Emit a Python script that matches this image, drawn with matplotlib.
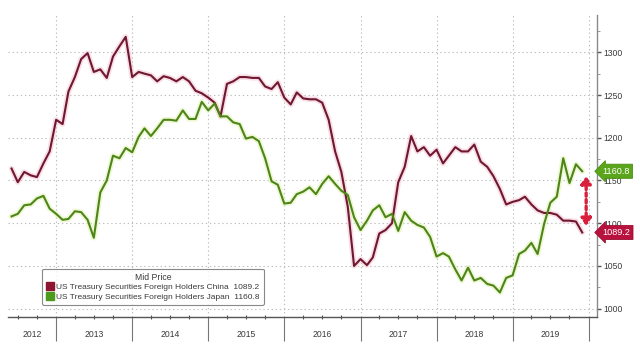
#!/usr/bin/env python3
"""
US Treasury securities held by China and Japan (USD bn), monthly, Bloomberg style.
"""
import matplotlib
matplotlib.use("Agg")
import matplotlib.dates as mdates
import matplotlib.pyplot as plt
import matplotlib.transforms as mtransforms
import pandas as pd
from matplotlib.lines import Line2D

# ── data (Jun 2012 .. Dec 2019) ─────────────────────────────────────────────
months = pd.date_range("2012-06-01", periods=91, freq="MS")

china = [
    1164, 1148, 1160, 1156, 1154, 1170, 1184, 1221, 1216, 1254, 1271, 1292,
    1299, 1277, 1280, 1270, 1295, 1307, 1318, 1271, 1277, 1275, 1273,
    1266, 1272, 1270, 1266, 1271, 1266, 1255, 1252, 1247, 1241, 1225, 1263,
    1266, 1271, 1271, 1270, 1270, 1260, 1257, 1265, 1247, 1239,
    1253, 1246, 1245, 1245, 1241, 1221, 1184, 1160, 1119, 1050, 1058, 1051,
    1060, 1088, 1092, 1100, 1148, 1166, 1202, 1184, 1189, 1179, 1186,
    1170, 1179, 1189, 1184, 1184, 1192, 1172, 1166, 1155, 1140, 1122, 1125,
    1127, 1131, 1122, 1115, 1112, 1112, 1110, 1103, 1103, 1102, 1089.2,
]
japan = [
    1108, 1111, 1121, 1122, 1129, 1132, 1117, 1111, 1104, 1105, 1114, 1113,
    1104, 1083, 1136, 1150, 1179, 1176, 1188, 1183, 1201, 1211, 1202,
    1211, 1221, 1221, 1220, 1232, 1222, 1222, 1242, 1232, 1240, 1225, 1225,
    1218, 1216, 1199, 1201, 1196, 1176, 1149, 1145, 1123, 1124, 1134,
    1137, 1142, 1134, 1146, 1155, 1146, 1138, 1133, 1107, 1092, 1103, 1115,
    1121, 1107, 1111, 1091, 1113, 1103, 1098, 1095, 1084, 1061,
    1065, 1061, 1046, 1033, 1048, 1033, 1036, 1029, 1027, 1019, 1036, 1039,
    1064, 1068, 1077, 1064, 1099, 1124, 1131, 1176, 1147, 1169, 1160.8,
]
years = list(range(2012, 2020))
yticks = [1000, 1050, 1100, 1150, 1200, 1250, 1300]

CHINA_C, CHINA_GLOW = "#6f1830", "#f4c6d4"
JAPAN_C, JAPAN_GLOW = "#4c8618", "#e2f2b4"
GRID_C = "#bdbdbd"
TEXT_C = "#3a3a3a"

plt.rcParams.update({
    "font.family": ["Liberation Sans", "DejaVu Sans"],
    "font.size": 6,
    "figure.dpi": 100,
})

fig = plt.figure(figsize=(6.4, 3.51))
ax = fig.add_axes([8 / 640, 1 - 317 / 351, 589 / 640, 302 / 351])

# ── lines (soft halo underneath, like the screenshot) ───────────────────────
ax.plot(months, china, color=CHINA_GLOW, lw=4.0, alpha=0.55, zorder=2, solid_capstyle="round")
ax.plot(months, japan, color=JAPAN_GLOW, lw=4.0, alpha=0.55, zorder=2, solid_capstyle="round")
ax.plot(months, china, color=CHINA_C, lw=1.5, zorder=3)
ax.plot(months, japan, color=JAPAN_C, lw=1.5, zorder=3)

ax.set_ylim(990.3, 1343.6)
ax.set_xlim(pd.Timestamp("2012-05-15"), pd.Timestamp("2020-02-10"))

# ── grid ───────────────────────────────────────────────────────────────────
for v in yticks:
    ax.axhline(v, color=GRID_C, lw=0.8, ls=(0, (1.2, 2.5)), zorder=1)
for y in years[1:] + [2020]:
    ax.axvline(pd.Timestamp(f"{y}-01-01"), color=GRID_C, lw=0.8, ls=(0, (1.2, 2.5)), zorder=1)

# ── spines / y axis on the right ───────────────────────────────────────────
for s in ("top", "left"):
    ax.spines[s].set_visible(False)
ax.spines["right"].set_color("#8a8a8a")
ax.spines["bottom"].set_color("#555555")
ax.spines["right"].set_linewidth(1.0)
ax.spines["bottom"].set_linewidth(1.0)

ax.yaxis.tick_right()
ax.set_yticks(yticks)
ax.set_yticks([v + 25 for v in yticks[:-1]] + [1325], minor=True)
ax.tick_params(axis="y", which="major", length=3, width=1.0, color="#555555",
               pad=1.5, labelsize=6.2, labelcolor=TEXT_C)
ax.tick_params(axis="y", which="minor", length=2, width=0.6, color="#8a8a8a")

# ── x axis: long separators at year starts, short ticks every quarter ──────
ax.xaxis.set_major_locator(mdates.YearLocator())
ax.xaxis.set_minor_locator(mdates.MonthLocator(bymonth=[4, 7, 10]))
ax.xaxis.set_major_formatter(plt.NullFormatter())
ax.tick_params(axis="x", which="major", length=17, width=0.8, color="#777777", direction="out")
ax.tick_params(axis="x", which="minor", length=2.5, width=0.8, color="#555555", direction="inout")

trans = mtransforms.blended_transform_factory(ax.transData, ax.transAxes)
x_left = mdates.date2num(pd.Timestamp("2012-05-15"))
for y in years:
    a = mdates.date2num(pd.Timestamp(f"{y}-01-01"))
    b = mdates.date2num(pd.Timestamp(f"{y + 1}-01-01"))
    ax.text((max(a, x_left) + b) / 2, -0.057, str(y), transform=trans,
            ha="center", va="center", fontsize=6.2, color=TEXT_C)

# ── last value tags on the right ───────────────────────────────────────────
ax.annotate("1160.8", xy=(1.0, 1160.8), xycoords=("axes fraction", "data"),
            xytext=(4, 0), textcoords="offset points", ha="left", va="center",
            color="white", fontsize=6.6, annotation_clip=False,
            bbox=dict(boxstyle="larrow,pad=0.28", fc="#5aa51c", ec="#4a8f10", lw=0.6))
ax.annotate("1089.2", xy=(1.0, 1089.2), xycoords=("axes fraction", "data"),
            xytext=(4, 0), textcoords="offset points", ha="left", va="center",
            color="white", fontsize=6.6, annotation_clip=False,
            bbox=dict(boxstyle="larrow,pad=0.28", fc="#b8123e", ec="#9c0f33", lw=0.6))

# ── red dotted spread arrow ────────────────────────────────────────────────
arrow_x = pd.Timestamp("2019-12-20")
ax.annotate("", xy=(arrow_x, 1155), xytext=(arrow_x, 1097),
            arrowprops=dict(arrowstyle="<|-|>,head_length=0.7,head_width=0.5",
                            color="#d81f3c", lw=2.4, ls=(0, (1.0, 1.0)),
                            shrinkA=0, shrinkB=0),
            zorder=4)

# ── legend ─────────────────────────────────────────────────────────────────
handles = [Line2D([], [], ls="none", marker="s", ms=6, color="#8e1530"),
           Line2D([], [], ls="none", marker="s", ms=6, color="#4c9a1c")]
labels = ["US Treasury Securities Foreign Holders China  1089.2",
          "US Treasury Securities Foreign Holders Japan  1160.8"]
leg = ax.legend(handles, labels, title="Mid Price", loc="lower left",
                bbox_to_anchor=(42 / 640, 1 - 305 / 351), bbox_transform=fig.transFigure,
                fontsize=6.0, title_fontsize=6.2, frameon=True, fancybox=True,
                handlelength=0.8, handletextpad=0.4, borderpad=0.5,
                labelspacing=0.2, borderaxespad=0)
leg.get_frame().set_edgecolor("#6a6a6a")
leg.get_frame().set_linewidth(0.8)
for t in leg.get_texts():
    t.set_color(TEXT_C)
leg.get_title().set_color(TEXT_C)

fig.savefig("out.png", dpi=100, facecolor="white")
